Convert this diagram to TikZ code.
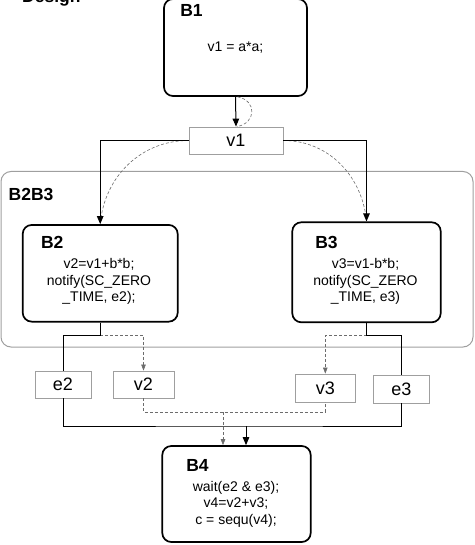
\documentclass[tikz,border=0pt]{standalone}
\usepackage{fontspec}
\setmainfont{Liberation Sans}
\usetikzlibrary{arrows.meta,calc}
\tikzset{
  block/.style={draw, line width=1.7pt, rounded corners=9pt},
  varbox/.style={draw=gray!75, line width=0.8pt, inner sep=0pt,
    font=\fontsize{18}{20}\selectfont},
  title/.style={anchor=base west, inner sep=0pt,
    font=\bfseries\fontsize{17.5}{20}\selectfont},
  code/.style={align=center, inner sep=0pt,
    font=\fontsize{14}{16.6}\selectfont},
  flow/.style={line width=1pt, -{Triangle[length=8pt,width=6.5pt]}},
  wire/.style={line width=1pt},
  dep/.style={gray!85!black, line width=0.6pt, dash pattern=on 3pt off 2pt},
  deparrow/.style={dep, -{Triangle[length=6pt,width=4.5pt]}},
}
\begin{document}
\begin{tikzpicture}[x=1pt,y=1pt]
\useasboundingbox (0,0) rectangle (474,-545);
\node[title] (design) at (22,-3) {Design};

% enclosing region of B2 and B3
\node[draw=gray!75, line width=1pt, rounded corners=10pt, inner sep=0pt,
  minimum width=472pt, minimum height=175.5pt] (B2B3) at (237,-259.25) {};
\node[title] (B2B3t) at ([shift={(8,-29.2)}]B2B3.north west) {B2B3};

\node[block, minimum width=143pt, minimum height=97pt] (B1) at (235.5,-47.5) {};
\node[title] (B1t) at ([shift={(17,-18)}]B1.north west) {B1};
\node[code] (B1c) at ([yshift=-0.5pt]B1.center) {v1 = a*a;};

\node[varbox, minimum width=94pt, minimum height=27pt] (v1) at (236,-140.5) {v1};

\node[block, minimum width=155pt, minimum height=96.7pt] (B2) at (100.2,-273.3) {};
\node[title] (B2t) at ([shift={(19,-24.3)}]B2.north west) {B2};
\node[code] (B2c) at (99,-281.5) {v2=v1+b*b;\\notify(SC\_ZERO\\\_TIME, e2);};

\node[block, minimum width=148.4pt, minimum height=100pt] (B3) at (366.5,-272.3) {};
\node[title] (B3t) at ([shift={(23.7,-27)}]B3.north west) {B3};
\node[code] (B3c) at (365.5,-281.5) {v3=v1-b*b;\\notify(SC\_ZERO\\\_TIME, e3)};

\node[varbox, minimum width=56pt, minimum height=27pt] (e2) at (63,-384.5) {e2};
\node[varbox, minimum width=61pt, minimum height=27pt] (v2) at (143.5,-384.5) {v2};
\node[varbox, minimum width=59.3pt, minimum height=28pt] (v3) at (325.3,-388) {v3};
\node[varbox, minimum width=56pt, minimum height=28pt] (e3) at (401.3,-389) {e3};

\node[block, minimum width=148.4pt, minimum height=96pt] (B4) at (236.5,-494) {};
\node[title] (B4t) at ([shift={(24.7,-26)}]B4.north west) {B4};
\node[code] (B4c) at (236,-504) {wait(e2 \& e3);\\v4=v2+v3;\\c = sequ(v4);};

\coordinate (join) at (246,-426);
\coordinate (vjoin) at (223,-412);

\draw[dep] ([xshift=2pt]B1.south) to[out=-10,in=10,looseness=1.7] ([xshift=1pt]v1.north);
\draw[dep] (v1.west) to[out=180,in=85] (B2.north);
\draw[dep] (v1.east) to[out=0,in=95] (B3.north);
\draw[flow] (B1.south) -- (v1.north);
\draw[flow] (v1.west) -| (B2.north);
\draw[flow] (v1.east) -| (B3.north);

\draw[deparrow] ([yshift=-12.6pt]B2.south) -| (v2.north);
\draw[deparrow] ([yshift=-12pt]B3.south) -| (v3.north);
\draw[dep] (v2.south) |- (vjoin) -| (v3.south);
\draw[deparrow] (vjoin) -- (vjoin |- B4.north);

\draw[wire] (B2.south) -- ++(0,-12.6) -| (e2.north);
\draw[wire] (B3.south) -- ++(0,-12) -| (e3.north);
\draw[wire] (e2.south) |- (join) -| (e3.south);
\draw[flow] (join) -- (join |- B4.north);
\end{tikzpicture}
\end{document}
